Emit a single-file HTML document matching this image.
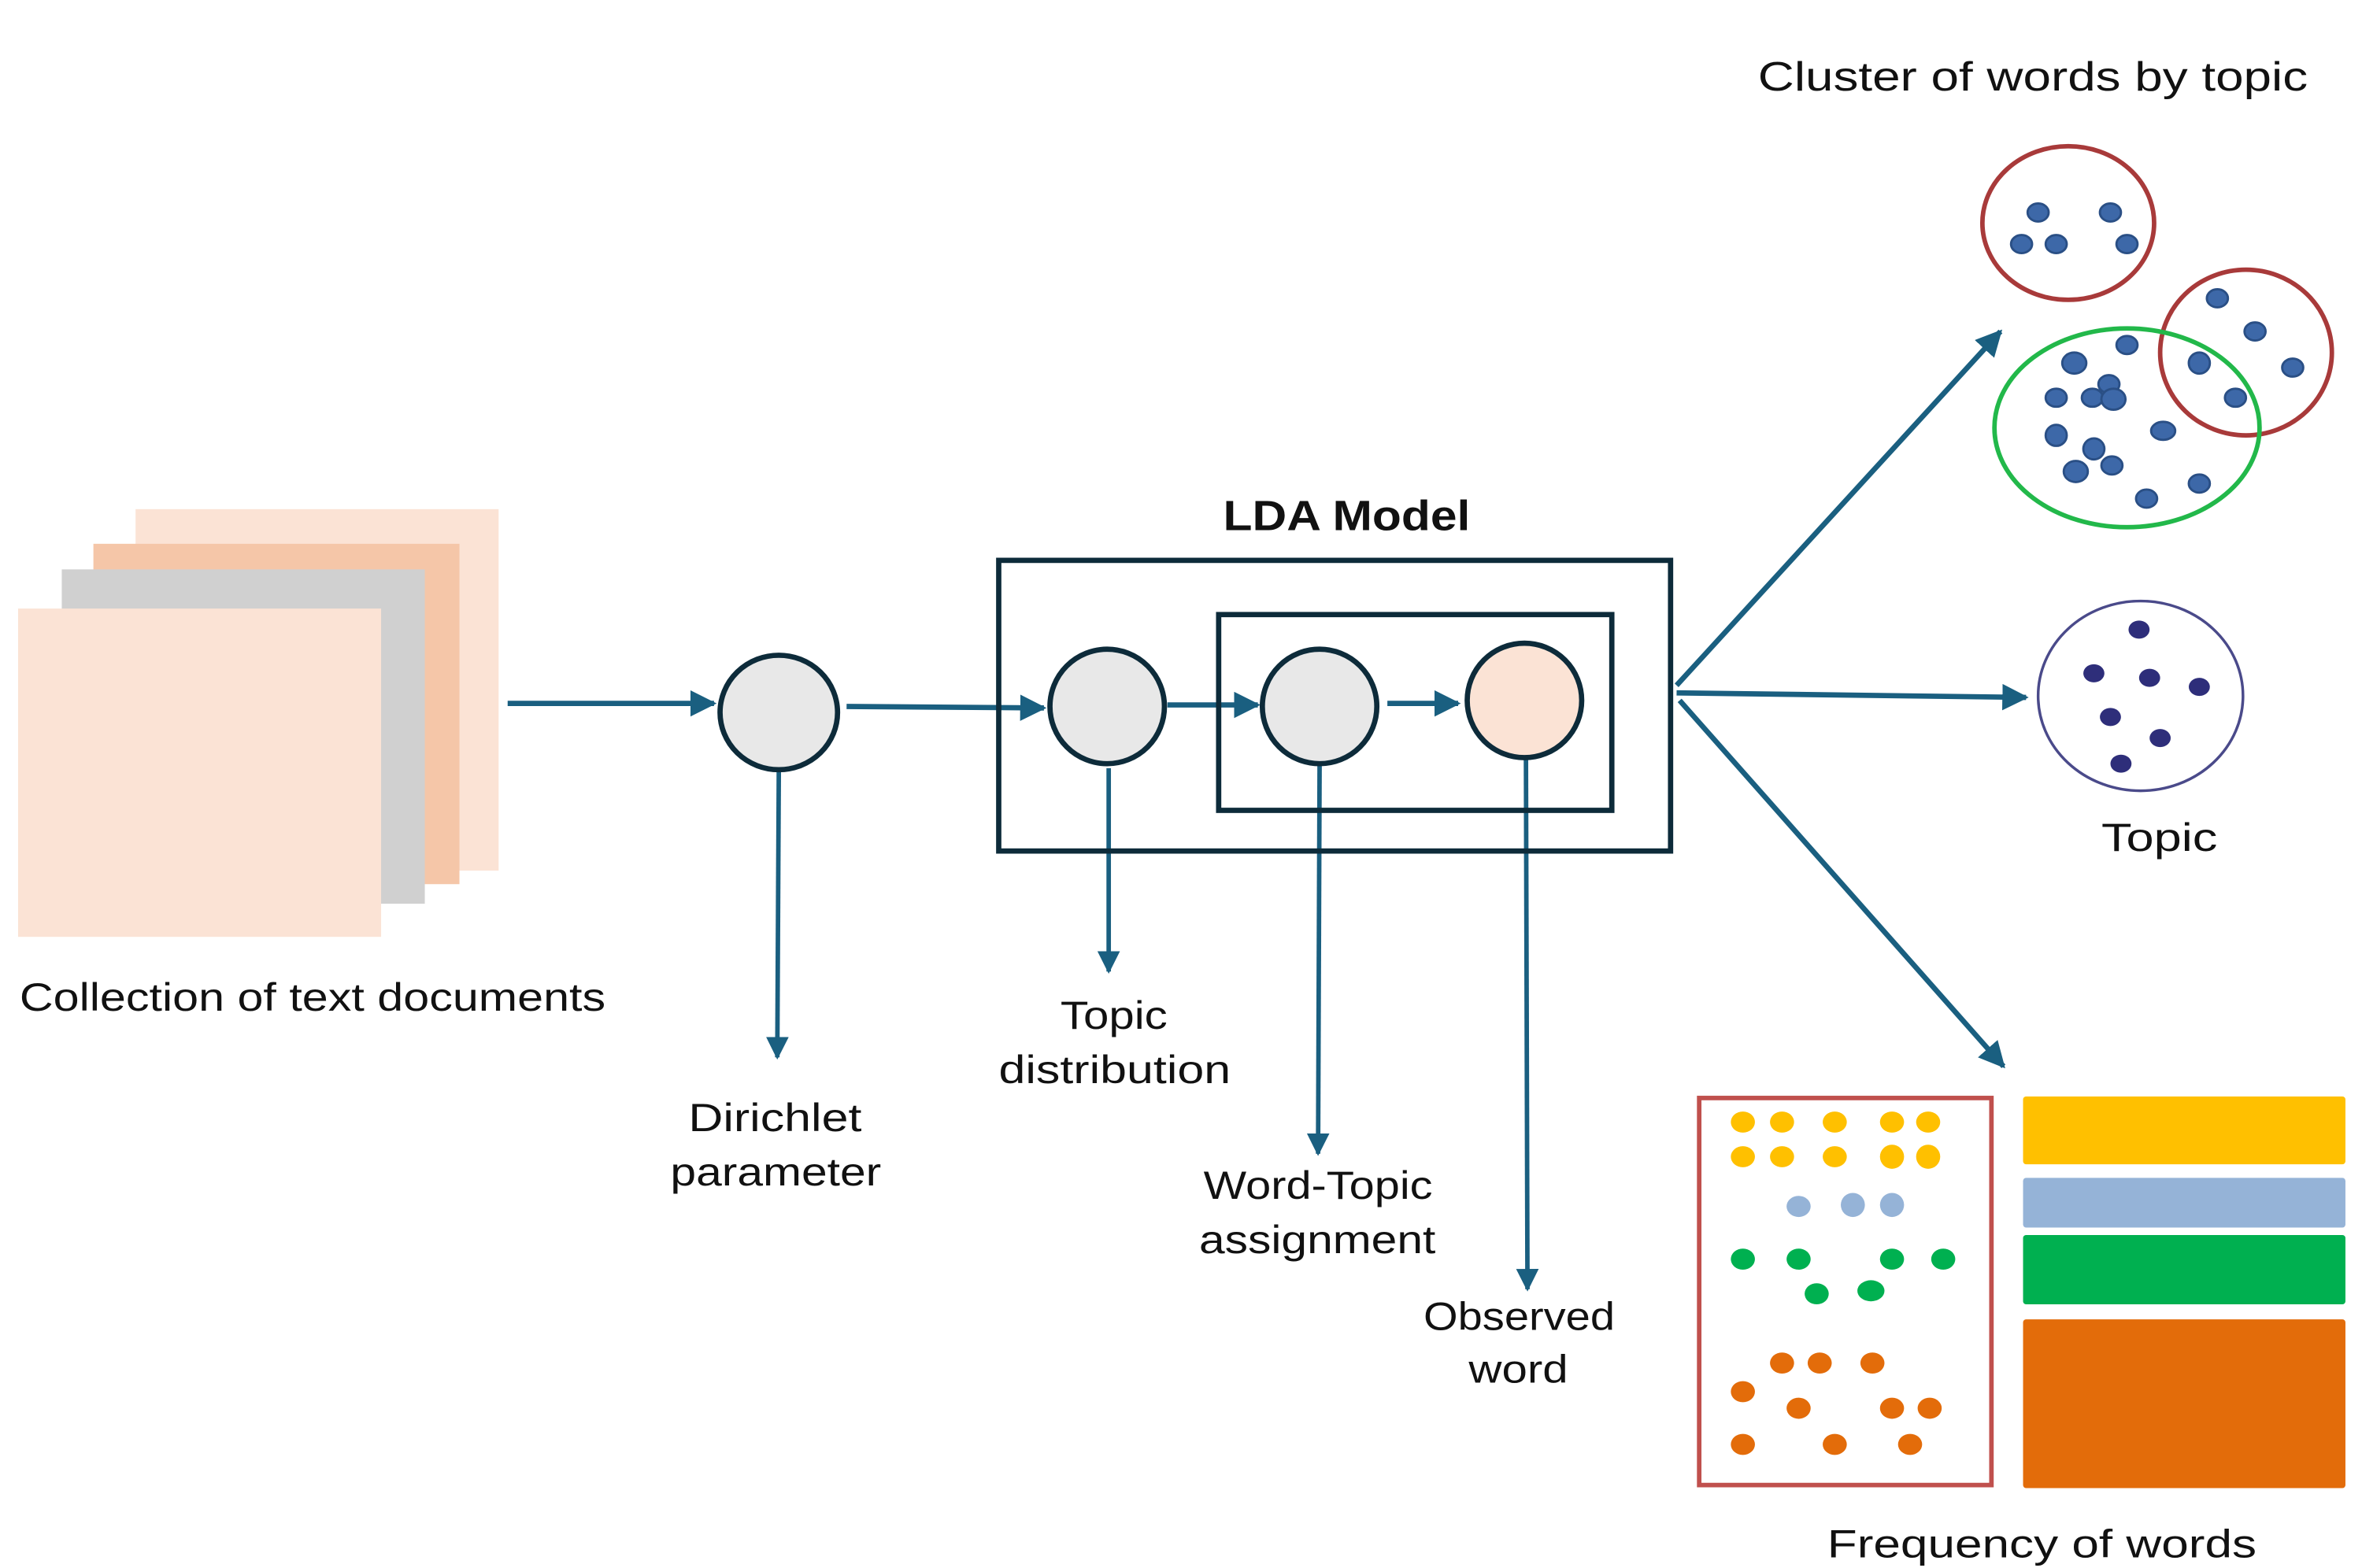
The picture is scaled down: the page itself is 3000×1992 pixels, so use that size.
<!DOCTYPE html>
<html><head><meta charset="utf-8"><style>html,body{margin:0;padding:0;background:#fff}svg{display:block}</style></head>
<body>
<svg width="3000" height="1992" viewBox="0 0 1568 1041" xmlns="http://www.w3.org/2000/svg" font-family="Liberation Sans, sans-serif">
<defs><marker id="a" viewBox="0 0 10 10" refX="9" refY="5" markerWidth="5" markerHeight="5" orient="auto"><path d="M0,0L10,5L0,10z" fill="#1a5f80"/></marker></defs>
<rect x="0" y="0" width="1568" height="1041" fill="#fff"/>
<rect x="90" y="338" width="241" height="240" fill="#fbe3d5"/>
<rect x="62" y="361" width="243" height="226" fill="#f5c6a8"/>
<rect x="41" y="378" width="241" height="222" fill="#d0d0d0"/>
<rect x="12" y="404" width="241" height="218" fill="#fbe3d5"/>
<g fill="#111" lengthAdjust="spacingAndGlyphs">
<text x="13" y="671" font-size="26" textLength="389" lengthAdjust="spacingAndGlyphs">Collection of text documents</text>
</g>
<g stroke="#1a5f80" stroke-width="3.5" fill="none" marker-end="url(#a)">
<line x1="337" y1="467" x2="474" y2="467"/>
<line x1="562" y1="469" x2="693" y2="470"/>
<line x1="775" y1="468" x2="835" y2="468"/>
<line x1="921" y1="467" x2="968" y2="467"/>
<line x1="1113" y1="455" x2="1328" y2="220"/>
<line x1="1113" y1="460" x2="1345" y2="463"/>
<line x1="1115" y1="465" x2="1330" y2="708"/>
</g>
<g stroke="#1a5f80" stroke-width="3" fill="none" marker-end="url(#a)">
<line x1="517" y1="512" x2="516" y2="702"/>
<line x1="736" y1="510" x2="736" y2="645"/>
<line x1="876" y1="508" x2="875" y2="766"/>
<line x1="1013" y1="504" x2="1014" y2="856"/>
</g>
<rect x="663" y="372" width="446" height="193" fill="none" stroke="#0d2b3a" stroke-width="3.5"/>
<rect x="809" y="408" width="261" height="130" fill="none" stroke="#0d2b3a" stroke-width="3.5"/>
<g stroke="#0d2b3a" stroke-width="3.5">
<ellipse cx="517" cy="473" rx="39" ry="38" fill="#e8e8e8"/>
<ellipse cx="735" cy="469" rx="38" ry="38" fill="#e8e8e8"/>
<ellipse cx="876" cy="469" rx="38" ry="38" fill="#e8e8e8"/>
<ellipse cx="1012" cy="465" rx="38" ry="38" fill="#fbe3d5"/>
</g>
<text x="812" y="352" font-size="28" font-weight="bold" fill="#111" textLength="164" lengthAdjust="spacingAndGlyphs">LDA Model</text>
<g font-size="26" fill="#111">
<text x="457" y="751" textLength="115" lengthAdjust="spacingAndGlyphs">Dirichlet</text><text x="445" y="787" textLength="140" lengthAdjust="spacingAndGlyphs">parameter</text>
<text x="704" y="683" textLength="71" lengthAdjust="spacingAndGlyphs">Topic</text><text x="663" y="719" textLength="154" lengthAdjust="spacingAndGlyphs">distribution</text>
<text x="799" y="796" textLength="152" lengthAdjust="spacingAndGlyphs">Word-Topic</text><text x="796" y="832" textLength="157" lengthAdjust="spacingAndGlyphs">assignment</text>
<text x="945" y="883" textLength="127" lengthAdjust="spacingAndGlyphs">Observed</text><text x="975" y="918" textLength="66" lengthAdjust="spacingAndGlyphs">word</text>
<text x="1395" y="565" textLength="77" lengthAdjust="spacingAndGlyphs">Topic</text>
<text x="1213" y="1034" textLength="285" lengthAdjust="spacingAndGlyphs">Frequency of words</text>
</g>
<text x="1167" y="60" font-size="27" fill="#111" textLength="365" lengthAdjust="spacingAndGlyphs">Cluster of words by topic</text>
<ellipse cx="1373" cy="148" rx="57" ry="51" fill="none" stroke="#a83a3a" stroke-width="3"/>
<ellipse cx="1491" cy="234" rx="57" ry="55" fill="none" stroke="#a83a3a" stroke-width="3"/>
<ellipse cx="1412" cy="284" rx="88" ry="66" fill="none" stroke="#22b84a" stroke-width="3"/>
<g fill="#3d68a8" stroke="#2a4f85" stroke-width="1.5">
<ellipse cx="1353" cy="141" rx="7" ry="6"/><ellipse cx="1401" cy="141" rx="7" ry="6"/><ellipse cx="1342" cy="162" rx="7" ry="6"/><ellipse cx="1365" cy="162" rx="7" ry="6"/><ellipse cx="1412" cy="162" rx="7" ry="6"/>
<ellipse cx="1412" cy="229" rx="7" ry="6"/><ellipse cx="1377" cy="241" rx="8" ry="7"/><ellipse cx="1400" cy="255" rx="7" ry="6"/><ellipse cx="1365" cy="264" rx="7" ry="6"/><ellipse cx="1389" cy="264" rx="7" ry="6"/><ellipse cx="1403" cy="265" rx="8" ry="7"/><ellipse cx="1365" cy="289" rx="7" ry="7"/><ellipse cx="1390" cy="298" rx="7" ry="7"/><ellipse cx="1378" cy="313" rx="8" ry="7"/><ellipse cx="1402" cy="309" rx="7" ry="6"/><ellipse cx="1436" cy="286" rx="8" ry="6"/><ellipse cx="1425" cy="331" rx="7" ry="6"/><ellipse cx="1460" cy="321" rx="7" ry="6"/>
<ellipse cx="1472" cy="198" rx="7" ry="6"/><ellipse cx="1497" cy="220" rx="7" ry="6"/><ellipse cx="1460" cy="241" rx="7" ry="7"/><ellipse cx="1522" cy="244" rx="7" ry="6"/><ellipse cx="1484" cy="264" rx="7" ry="6"/>
</g>
<ellipse cx="1421" cy="462" rx="68" ry="63" fill="none" stroke="#4a4a8a" stroke-width="1.8"/>
<g fill="#2e2e7a">
<ellipse cx="1420" cy="418" rx="7" ry="6"/><ellipse cx="1390" cy="447" rx="7" ry="6"/><ellipse cx="1427" cy="450" rx="7" ry="6"/><ellipse cx="1460" cy="456" rx="7" ry="6"/><ellipse cx="1401" cy="476" rx="7" ry="6"/><ellipse cx="1434" cy="490" rx="7" ry="6"/><ellipse cx="1408" cy="507" rx="7" ry="6"/>
</g>
<rect x="1128" y="729" width="194" height="257" fill="none" stroke="#c0504d" stroke-width="3"/>
<rect x="1343" y="728" width="214" height="45" rx="2" fill="#ffc000"/>
<rect x="1343" y="782" width="214" height="33" rx="2" fill="#95b3d7"/>
<rect x="1343" y="820" width="214" height="46" rx="2" fill="#00b050"/>
<rect x="1343" y="876" width="214" height="112" rx="2" fill="#e36c0a"/>
<g fill="#ffc000"><ellipse cx="1157" cy="745" rx="8" ry="7"/><ellipse cx="1183" cy="745" rx="8" ry="7"/><ellipse cx="1218" cy="745" rx="8" ry="7"/><ellipse cx="1256" cy="745" rx="8" ry="7"/><ellipse cx="1280" cy="745" rx="8" ry="7"/><ellipse cx="1157" cy="768" rx="8" ry="7"/><ellipse cx="1183" cy="768" rx="8" ry="7"/><ellipse cx="1218" cy="768" rx="8" ry="7"/><ellipse cx="1256" cy="768" rx="8" ry="8"/><ellipse cx="1280" cy="768" rx="8" ry="8"/></g>
<g fill="#95b3d7"><ellipse cx="1194" cy="801" rx="8" ry="7"/><ellipse cx="1230" cy="800" rx="8" ry="8"/><ellipse cx="1256" cy="800" rx="8" ry="8"/></g>
<g fill="#00b050"><ellipse cx="1157" cy="836" rx="8" ry="7"/><ellipse cx="1194" cy="836" rx="8" ry="7"/><ellipse cx="1256" cy="836" rx="8" ry="7"/><ellipse cx="1290" cy="836" rx="8" ry="7"/><ellipse cx="1206" cy="859" rx="8" ry="7"/><ellipse cx="1242" cy="857" rx="9" ry="7"/></g>
<g fill="#e36c0a"><ellipse cx="1183" cy="905" rx="8" ry="7"/><ellipse cx="1208" cy="905" rx="8" ry="7"/><ellipse cx="1243" cy="905" rx="8" ry="7"/><ellipse cx="1157" cy="924" rx="8" ry="7"/><ellipse cx="1194" cy="935" rx="8" ry="7"/><ellipse cx="1256" cy="935" rx="8" ry="7"/><ellipse cx="1281" cy="935" rx="8" ry="7"/><ellipse cx="1157" cy="959" rx="8" ry="7"/><ellipse cx="1218" cy="959" rx="8" ry="7"/><ellipse cx="1268" cy="959" rx="8" ry="7"/></g>
</svg>
</body></html>
